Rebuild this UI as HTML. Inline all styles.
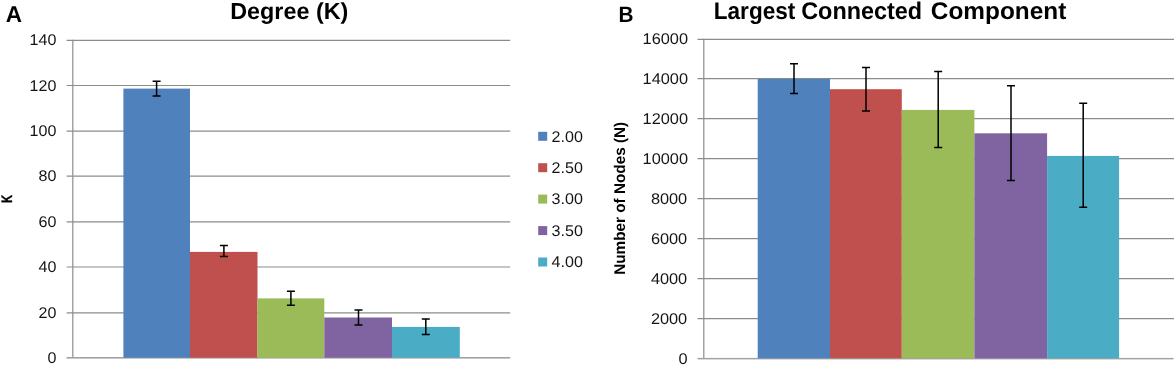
<!DOCTYPE html>
<html><head><meta charset="utf-8"><title>Figure</title>
<style>
html,body{margin:0;padding:0;background:#fff;}
svg{display:block;}
text{font-family:"Liberation Sans",sans-serif;text-rendering:geometricPrecision;}
.b{font-weight:bold;fill:#000;}
.n{fill:#141414;}
</style></head><body>
<svg width="1174" height="365" viewBox="0 0 1174 365">
<rect width="1174" height="365" fill="#fff"/>
<g stroke="#8c8c8c" stroke-width="1.2">
<line x1="66.6" y1="40.4" x2="510.2" y2="40.4"/>
<line x1="66.6" y1="85.5" x2="510.2" y2="85.5"/>
<line x1="66.6" y1="131.2" x2="510.2" y2="131.2"/>
<line x1="66.6" y1="176.2" x2="510.2" y2="176.2"/>
<line x1="66.6" y1="221.8" x2="510.2" y2="221.8"/>
<line x1="66.6" y1="267.0" x2="510.2" y2="267.0"/>
<line x1="66.6" y1="312.8" x2="510.2" y2="312.8"/>
<line x1="72.8" y1="39.8" x2="72.8" y2="358"/>
</g>
<rect x="66.6" y="357.0" width="443.6" height="1.6" fill="#a2a2a2"/>
<rect x="123.4" y="88.6" width="66.6" height="269.1" fill="#4F81BD"/>
<rect x="190.0" y="251.9" width="67.5" height="105.8" fill="#C0504D"/>
<rect x="257.5" y="298.4" width="66.8" height="59.3" fill="#9BBB59"/>
<rect x="324.3" y="317.5" width="67.7" height="40.2" fill="#8064A2"/>
<rect x="392.0" y="326.9" width="67.8" height="30.8" fill="#4BACC6"/>
<g stroke="#000" stroke-width="1.5" fill="none">
<path d="M152.6 81.2H160.6M152.6 96.1H160.6M156.6 81.2V96.1"/>
<path d="M219.9 245.4H227.9M219.9 256.5H227.9M223.9 245.4V256.5"/>
<path d="M286.9 291.2H294.9M286.9 305.2H294.9M290.9 291.2V305.2"/>
<path d="M354.5 310.1H362.5M354.5 325.0H362.5M358.5 310.1V325.0"/>
<path d="M421.8 318.9H429.8M421.8 334.4H429.8M425.8 318.9V334.4"/>
</g>
<text class="n" transform="translate(56.40 45.20) scale(1.0359 1)" font-size="15.5px" text-anchor="end">140</text>
<text class="n" transform="translate(56.40 90.70) scale(1.0359 1)" font-size="15.5px" text-anchor="end">120</text>
<text class="n" transform="translate(56.40 136.40) scale(1.0359 1)" font-size="15.5px" text-anchor="end">100</text>
<text class="n" transform="translate(56.40 181.40) scale(1.0359 1)" font-size="15.5px" text-anchor="end">80</text>
<text class="n" transform="translate(56.40 227.00) scale(1.0359 1)" font-size="15.5px" text-anchor="end">60</text>
<text class="n" transform="translate(56.40 272.20) scale(1.0359 1)" font-size="15.5px" text-anchor="end">40</text>
<text class="n" transform="translate(56.40 318.00) scale(1.0359 1)" font-size="15.5px" text-anchor="end">20</text>
<text class="n" transform="translate(56.40 363.00) scale(1.0359 1)" font-size="15.5px" text-anchor="end">0</text>
<rect x="538.2" y="131.8" width="9" height="9" fill="#4F81BD"/>
<text class="n" transform="translate(551.60 141.50) scale(1.0375 1)" font-size="15.5px">2.00</text>
<rect x="538.2" y="163.2" width="9" height="9" fill="#C0504D"/>
<text class="n" transform="translate(551.60 172.92) scale(1.0375 1)" font-size="15.5px">2.50</text>
<rect x="538.2" y="194.6" width="9" height="9" fill="#9BBB59"/>
<text class="n" transform="translate(551.60 204.34) scale(1.0375 1)" font-size="15.5px">3.00</text>
<rect x="538.2" y="226.1" width="9" height="9" fill="#8064A2"/>
<text class="n" transform="translate(551.60 235.76) scale(1.0375 1)" font-size="15.5px">3.50</text>
<rect x="538.2" y="257.5" width="9" height="9" fill="#4BACC6"/>
<text class="n" transform="translate(551.60 267.18) scale(1.0375 1)" font-size="15.5px">4.00</text>
<text class="b" transform="translate(5.70 21.90) scale(0.9856 1)" font-size="22.9px">A</text>
<text class="b" transform="translate(230.20 19.40) scale(1.0075 1)" font-size="23.2px">Degree (K)</text>
<text class="b" transform="translate(11.90 198.90) rotate(-90) scale(0.7470 1)" font-size="15.2px" text-anchor="middle" stroke="#000" stroke-width="0.35">K</text>
<g stroke="#8c8c8c" stroke-width="1.2">
<line x1="697.5" y1="39.3" x2="1174" y2="39.3"/>
<line x1="697.5" y1="78.6" x2="1174" y2="78.6"/>
<line x1="697.5" y1="118.6" x2="1174" y2="118.6"/>
<line x1="697.5" y1="158.6" x2="1174" y2="158.6"/>
<line x1="697.5" y1="198.6" x2="1174" y2="198.6"/>
<line x1="697.5" y1="238.6" x2="1174" y2="238.6"/>
<line x1="697.5" y1="278.6" x2="1174" y2="278.6"/>
<line x1="697.5" y1="318.6" x2="1174" y2="318.6"/>
<line x1="703.8" y1="38.7" x2="703.8" y2="359"/>
</g>
<rect x="697.5" y="357.9" width="476" height="1.5" fill="#a2a2a2"/>
<rect x="757.7" y="78.9" width="72.3" height="279.4" fill="#4F81BD"/>
<rect x="830.0" y="89.2" width="71.8" height="269.1" fill="#C0504D"/>
<rect x="901.8" y="109.9" width="72.6" height="248.4" fill="#9BBB59"/>
<rect x="974.4" y="133.3" width="72.7" height="225.0" fill="#8064A2"/>
<rect x="1047.1" y="155.9" width="72.0" height="202.4" fill="#4BACC6"/>
<g stroke="#000" stroke-width="1.5" fill="none">
<path d="M790.0 63.8H798.0M790.0 93.4H798.0M794.0 63.8V93.4"/>
<path d="M862.0 67.5H870.0M862.0 110.9H870.0M866.0 67.5V110.9"/>
<path d="M934.2 71.5H942.2M934.2 147.4H942.2M938.2 71.5V147.4"/>
<path d="M1007.0 85.7H1015.0M1007.0 180.6H1015.0M1011.0 85.7V180.6"/>
<path d="M1079.2 103.3H1087.2M1079.2 207.3H1087.2M1083.2 103.3V207.3"/>
</g>
<text class="n" transform="translate(688.00 43.70) scale(1.0533 1)" font-size="15.5px" text-anchor="end">16000</text>
<text class="n" transform="translate(688.00 83.70) scale(1.0533 1)" font-size="15.5px" text-anchor="end">14000</text>
<text class="n" transform="translate(688.00 123.70) scale(1.0533 1)" font-size="15.5px" text-anchor="end">12000</text>
<text class="n" transform="translate(688.00 163.70) scale(1.0533 1)" font-size="15.5px" text-anchor="end">10000</text>
<text class="n" transform="translate(687.20 203.70) scale(1.0533 1)" font-size="15.5px" text-anchor="end">8000</text>
<text class="n" transform="translate(687.20 243.70) scale(1.0533 1)" font-size="15.5px" text-anchor="end">6000</text>
<text class="n" transform="translate(687.20 283.70) scale(1.0533 1)" font-size="15.5px" text-anchor="end">4000</text>
<text class="n" transform="translate(687.20 323.70) scale(1.0533 1)" font-size="15.5px" text-anchor="end">2000</text>
<text class="n" transform="translate(687.50 363.80) scale(1.0533 1)" font-size="15.5px" text-anchor="end">0</text>
<text class="b" transform="translate(618.60 21.70) scale(0.9356 1)" font-size="22.2px">B</text>
<text class="b" transform="translate(713.80 18.60) scale(0.9362 1)" font-size="24.1px">Largest</text>
<text class="b" transform="translate(801.20 18.60) scale(0.9717 1)" font-size="24.1px">Connected</text>
<text class="b" transform="translate(930.80 18.60) scale(1.0122 1)" font-size="24.1px">Component</text>
<text class="b" transform="translate(625.20 198.30) rotate(-90) scale(0.9871 1)" font-size="15.5px" text-anchor="middle">Number of Nodes (N)</text>
</svg>
</body></html>
